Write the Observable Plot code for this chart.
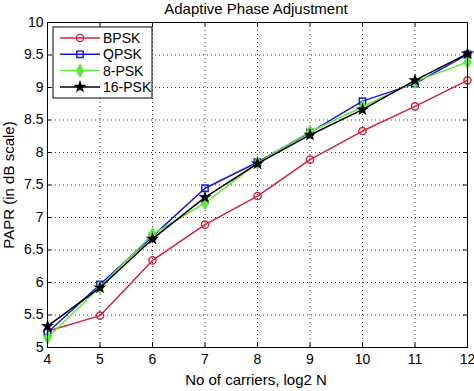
<!DOCTYPE html>
<html>
<head>
<meta charset="utf-8">
<script src="https://cdn.jsdelivr.net/npm/d3@7"></script>
<script src="https://cdn.jsdelivr.net/npm/@observablehq/plot@0.6"></script>
<style>
  html, body { margin: 0; padding: 0; background: #fff; }
  #chart { position: relative; width: 474px; height: 391px; }
  svg { font-family: "Liberation Sans", Arial, sans-serif; }
</style>
</head>
<body>
<div id="chart"></div>
<script>
const carriers = [4, 5, 6, 7, 8, 9, 10, 11, 12];
const bpsk  = [5.25, 5.49, 6.34, 6.89, 7.33, 7.89, 8.33, 8.71, 9.11];
const qpsk  = [5.23, 5.97, 6.71, 7.45, 7.85, 8.31, 8.79, 9.06, 9.51];
const psk8  = [5.15, 5.93, 6.74, 7.22, 7.84, 8.32, 8.70, 9.09, 9.39];
const psk16 = [5.33, 5.92, 6.67, 7.31, 7.83, 8.27, 8.66, 9.11, 9.52];
const xTicks = [4, 5, 6, 7, 8, 9, 10, 11, 12];
const yTicks = [5, 5.5, 6, 6.5, 7, 7.5, 8, 8.5, 9, 9.5, 10];

const series = [
  {name: "BPSK",   values: bpsk,  color: "#d4203a", symbol: "circle",  fill: "none"},
  {name: "QPSK",   values: qpsk,  color: "#1414f0", symbol: "square",  fill: "none"},
  {name: "8-PSK",  values: psk8,  color: "#5ee83a", symbol: "diamond", fill: "#5ee83a"},
  {name: "16-PSK", values: psk16, color: "#000000", symbol: "star",    fill: "#000000"}
];

const rows = series.flatMap(s => s.values.map((v, i) => ({series: s.name, x: carriers[i], y: v})));

const marks = [
  Plot.gridX(xTicks.slice(1, -1), {stroke: "#222", strokeOpacity: 0.9, strokeDasharray: "1,3"}),
  Plot.gridY(yTicks.slice(1, -1), {stroke: "#222", strokeOpacity: 0.9, strokeDasharray: "1,3"}),
  Plot.ruleX(xTicks, {y1: 5, y2: 5.065, stroke: "#000"}),
  Plot.ruleX(xTicks, {y1: 10, y2: 9.935, stroke: "#000"}),
  Plot.ruleY(yTicks, {x1: 4, x2: 4.08, stroke: "#000"}),
  Plot.ruleY(yTicks, {x1: 12, x2: 11.92, stroke: "#000"}),
  Plot.axisX({ticks: xTicks, tickSize: 0, tickPadding: 7, fontSize: 14, label: null}),
  Plot.axisY({ticks: yTicks, tickSize: 0, tickPadding: 4, fontSize: 14, label: null, tickFormat: d => String(d)}),
];
for (const s of series) {
  const data = rows.filter(r => r.series === s.name);
  marks.push(Plot.line(data, {x: "x", y: "y", stroke: s.color, strokeWidth: 1.5}));
  marks.push(Plot.dot(data, {x: "x", y: "y", symbol: s.symbol, r: s.symbol === "star" ? 2.8 : 3.6, stroke: s.color, fill: s.fill, strokeWidth: 1.4}));
}
marks.push(Plot.frame({stroke: "#000", strokeWidth: 1}));

const plot = Plot.plot({
  width: 474,
  height: 391,
  marginLeft: 47,
  marginRight: 7,
  marginTop: 22,
  marginBottom: 44,
  x: {domain: [4, 12]},
  y: {domain: [5, 10]},
  style: {fontSize: "14px", color: "#000", fontFamily: "Liberation Sans, Arial, sans-serif", overflow: "visible"},
  marks
});

const svg = d3.select(plot);
svg.append("text").attr("x", 256).attr("y", 14).attr("text-anchor", "middle")
  .attr("font-size", 15).attr("fill", "#000").text("Adaptive Phase Adjustment");
svg.append("text").attr("x", 256).attr("y", 385).attr("text-anchor", "middle")
  .attr("font-size", 15).attr("fill", "#000").text("No of carriers, log2 N");
svg.append("text").attr("transform", "translate(14,185) rotate(-90)").attr("text-anchor", "middle")
  .attr("font-size", 15).attr("fill", "#000").text("PAPR (in dB scale)");

const lg = svg.append("g").attr("transform", "translate(53,27)");
lg.append("rect").attr("x", 0).attr("y", 0).attr("width", 99).attr("height", 71)
  .attr("fill", "#fff").attr("stroke", "#000");
const sym = {circle: d3.symbolCircle, square: d3.symbolSquare, diamond: d3.symbolDiamond, star: d3.symbolStar};
series.forEach((s, i) => {
  const cy = 11 + i * 16.3;
  lg.append("line").attr("x1", 7).attr("x2", 47).attr("y1", cy).attr("y2", cy)
    .attr("stroke", s.color).attr("stroke-width", 1.5);
  const area = s.symbol === "star" ? Math.PI * 2.8 * 2.8 : Math.PI * 3.6 * 3.6;
  lg.append("path").attr("d", d3.symbol(sym[s.symbol], area)())
    .attr("transform", `translate(27,${cy})`)
    .attr("fill", s.fill).attr("stroke", s.color).attr("stroke-width", 1.4);
  lg.append("text").attr("x", 50).attr("y", cy + 5).attr("text-anchor", "start")
    .attr("font-size", 14).attr("fill", "#000").text(s.name);
});

document.getElementById("chart").appendChild(plot);
</script>
</body>
</html>
